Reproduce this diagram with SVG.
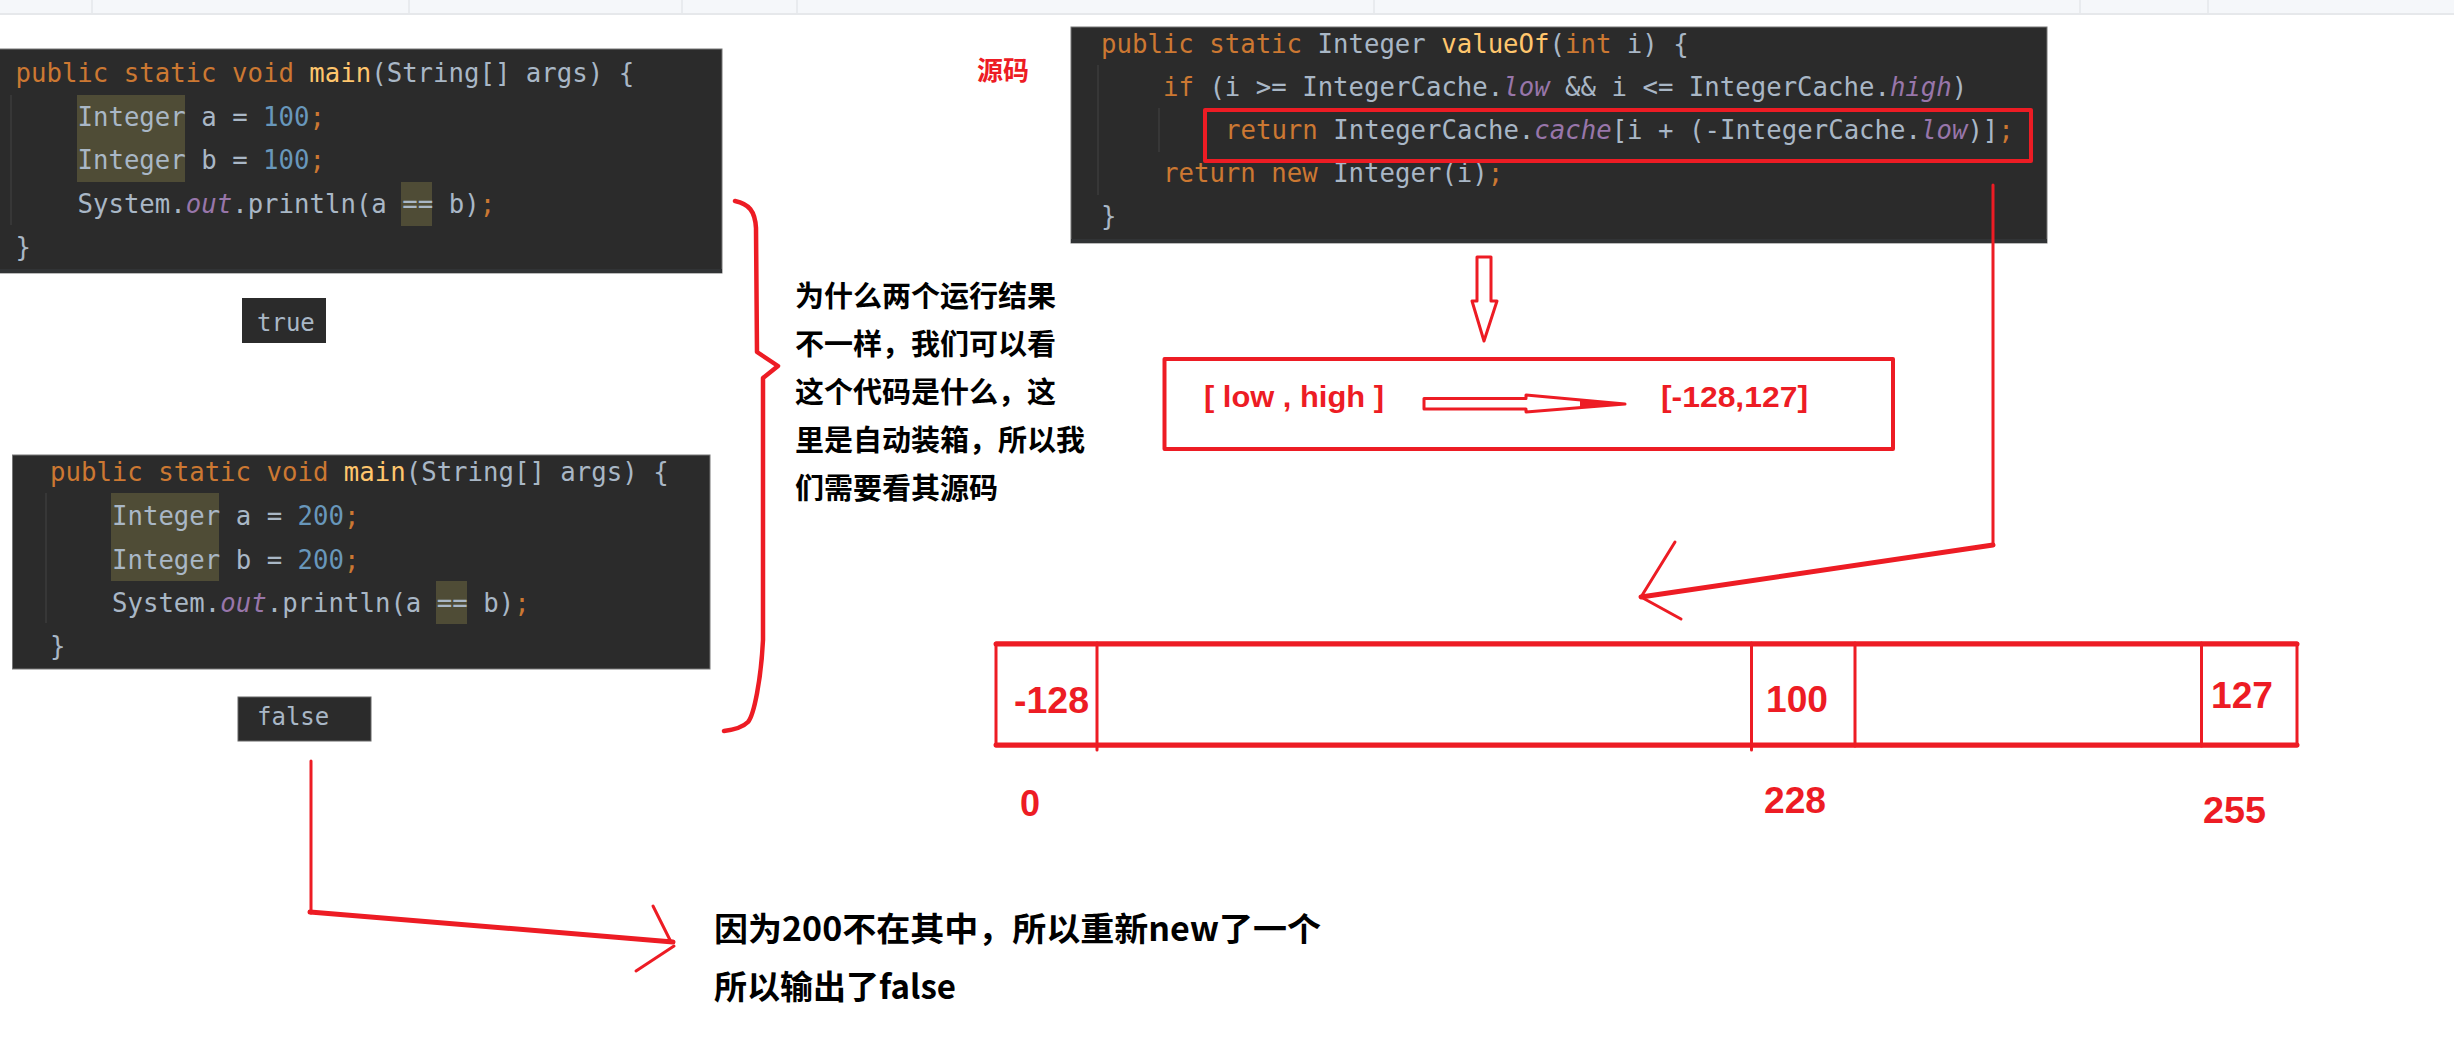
<svg xmlns="http://www.w3.org/2000/svg" width="2454" height="1055" viewBox="0 0 2454 1055">
<style>
.code{font-family:"DejaVu Sans Mono","Liberation Mono",monospace;font-size:25.7px;fill:#a9b7c6}
.kw{fill:#cc7832}
.fn{fill:#ffc66d}
.num{fill:#6897bb}
.pu{fill:#9876aa;font-style:italic}
.blk{fill:#2b2b2b;stroke:#767676;stroke-width:1}
.hl{fill:#4f4c36}
.guide{stroke:#3c3c3c;stroke-width:1.5}
.res{font-family:"DejaVu Sans Mono","Liberation Mono",monospace;font-size:24px;fill:#a9b7c6}
.red{fill:none;stroke:#ed1c24;stroke-linecap:round;stroke-linejoin:round}
.rl{font-family:"Liberation Sans",Arial,sans-serif;font-weight:bold;fill:#ed1c24}
.cn{font-family:"Noto Sans CJK SC","Noto Sans",sans-serif;font-weight:bold;fill:#000}
</style>
<rect width="2454" height="1055" fill="#ffffff"/>
<g id="topbar">
<rect x="0" y="0" width="2454" height="13" fill="#f5f7fa"/>
<rect x="0" y="13" width="2454" height="2" fill="#e6e8eb"/>
<g stroke="#dcdfe3" stroke-width="1">
<line x1="92" y1="0" x2="92" y2="13"/><line x1="409" y1="0" x2="409" y2="13"/><line x1="682" y1="0" x2="682" y2="13"/><line x1="797" y1="0" x2="797" y2="13"/><line x1="1374" y1="0" x2="1374" y2="13"/><line x1="2080" y1="0" x2="2080" y2="13"/><line x1="2208" y1="0" x2="2208" y2="13"/>
</g>
</g>
<g id="code1">
<rect class="blk" x="-1" y="49" width="723" height="224"/>
<rect x="0" y="269" width="722" height="4" fill="#313335"/>
<rect class="hl" x="77" y="95" width="108" height="87"/>
<rect class="hl" x="401" y="182" width="31" height="44"/>
<line class="guide" x1="11" y1="95" x2="11" y2="225"/>
<text class="code" xml:space="preserve" x="15.5" y="82"><tspan class="kw">public static void </tspan><tspan class="fn">main</tspan>(String[] args) {</text>
<text class="code" xml:space="preserve" x="77.5" y="125.5">Integer a = <tspan class="num">100</tspan><tspan class="kw">;</tspan></text>
<text class="code" xml:space="preserve" x="77.5" y="169">Integer b = <tspan class="num">100</tspan><tspan class="kw">;</tspan></text>
<text class="code" xml:space="preserve" x="77.5" y="212.5">System.<tspan class="pu">out</tspan>.println(a == b)<tspan class="kw">;</tspan></text>
<text class="code" x="15.5" y="256">}</text>
</g>
<g id="result-true">
<rect x="242" y="298" width="84" height="45" fill="#2b2b2b"/>
<text class="res" x="257" y="331">true</text>
</g>
<g id="code2">
<rect class="blk" x="12.5" y="455" width="697.5" height="214"/>
<rect class="hl" x="111" y="493" width="108" height="88"/>
<rect class="hl" x="436" y="581" width="31" height="43"/>
<line class="guide" x1="46" y1="493" x2="46" y2="623"/>
<text class="code" xml:space="preserve" x="50" y="481"><tspan class="kw">public static void </tspan><tspan class="fn">main</tspan>(String[] args) {</text>
<text class="code" xml:space="preserve" x="112" y="525">Integer a = <tspan class="num">200</tspan><tspan class="kw">;</tspan></text>
<text class="code" xml:space="preserve" x="112" y="568.5">Integer b = <tspan class="num">200</tspan><tspan class="kw">;</tspan></text>
<text class="code" xml:space="preserve" x="112" y="612">System.<tspan class="pu">out</tspan>.println(a == b)<tspan class="kw">;</tspan></text>
<text class="code" x="50" y="655">}</text>
</g>
<g id="result-false">
<rect x="238" y="697" width="133" height="44" fill="#2b2b2b" stroke="#666" stroke-width="1"/>
<text class="res" x="257" y="725">false</text>
</g>
<g id="brace">
<path class="red" stroke-width="4.5" d="M735 201 C749 204 755 211 756 228 L757 352 L778 366 L763 378 L763 640 C761 680 754 715 748 722 C742 728 732 730 724 731"/>
</g>
<g id="explain">
<text class="cn" font-size="29" x="795" y="307">为什么两个运行结果</text>
<text class="cn" font-size="29" x="795" y="355">不一样，我们可以看</text>
<text class="cn" font-size="29" x="795" y="403">这个代码是什么，这</text>
<text class="cn" font-size="29" x="795" y="451">里是自动装箱，所以我</text>
<text class="cn" font-size="29" x="795" y="499">们需要看其源码</text>
</g>
<g id="label-source">
<text class="cn" font-size="26" x="977" y="80" style="fill:#ed1c24">源码</text>
</g>
<g id="code3">
<rect class="blk" x="1071" y="27" width="976" height="216"/>
<rect x="1071" y="239" width="976" height="4" fill="#313335"/>
<line class="guide" x1="1098" y1="65" x2="1098" y2="195"/>
<line class="guide" x1="1159" y1="108" x2="1159" y2="152"/>
<text class="code" xml:space="preserve" x="1101" y="53"><tspan class="kw">public static </tspan>Integer <tspan class="fn">valueOf</tspan>(<tspan class="kw">int</tspan> i) {</text>
<text class="code" xml:space="preserve" x="1163" y="96"><tspan class="kw">if</tspan> (i &gt;= IntegerCache.<tspan class="pu">low</tspan> &amp;&amp; i &lt;= IntegerCache.<tspan class="pu">high</tspan>)</text>
<text class="code" xml:space="preserve" x="1225" y="139"><tspan class="kw">return </tspan>IntegerCache.<tspan class="pu">cache</tspan>[i + (-IntegerCache.<tspan class="pu">low</tspan>)]<tspan class="kw">;</tspan></text>
<text class="code" xml:space="preserve" x="1163" y="182"><tspan class="kw">return new </tspan>Integer(i)<tspan class="kw">;</tspan></text>
<text class="code" x="1101" y="225">}</text>
<rect class="red" stroke-width="4" x="1205" y="110" width="826" height="51"/>
</g>
<g id="range-box">
<rect class="red" stroke-width="4" x="1164.5" y="359" width="728.5" height="90"/>
<text class="rl" font-size="30" x="1204" y="407" textLength="180" lengthAdjust="spacingAndGlyphs">[ low , high ]</text>
<text class="rl" font-size="30" x="1661" y="407" textLength="147" lengthAdjust="spacingAndGlyphs">[-128,127]</text>
</g>
<g id="cache-array">
<rect class="red" stroke-width="3" x="996" y="643" width="1301" height="103"/>
<line class="red" stroke-width="5" x1="996" y1="644" x2="2297" y2="644" stroke-linecap="butt"/>
<line class="red" stroke-width="5" x1="996" y1="745" x2="2297" y2="745" stroke-linecap="butt"/>
<line class="red" stroke-width="3" x1="1097" y1="643" x2="1097" y2="750"/>
<line class="red" stroke-width="3" x1="1751.5" y1="643" x2="1751.5" y2="750"/>
<line class="red" stroke-width="3" x1="1855" y1="643" x2="1855" y2="746"/>
<line class="red" stroke-width="3" x1="2201.5" y1="643" x2="2201.5" y2="746"/>
<text class="rl" font-size="36" x="1014" y="713" textLength="75" lengthAdjust="spacingAndGlyphs">-128</text>
<text class="rl" font-size="36" x="1766" y="712" textLength="62" lengthAdjust="spacingAndGlyphs">100</text>
<text class="rl" font-size="36" x="2211" y="708" textLength="62" lengthAdjust="spacingAndGlyphs">127</text>
<text class="rl" font-size="36" x="1020" y="816">0</text>
<text class="rl" font-size="36" x="1764" y="813" textLength="62" lengthAdjust="spacingAndGlyphs">228</text>
<text class="rl" font-size="36" x="2203" y="823" textLength="63" lengthAdjust="spacingAndGlyphs">255</text>
</g>
<g id="conclusion">
<text class="cn" font-size="33" x="714" y="941" textLength="607" lengthAdjust="spacingAndGlyphs">因为200不在其中，所以重新new了一个</text>
<text class="cn" font-size="33" x="714" y="999">所以输出了false</text>
</g>
<g id="connectors">
<path class="red" stroke-width="3" d="M1477 257 L1491 257 L1491 301 L1497 301 L1484 341 L1472 301 L1477 301 Z"/>
<path class="red" stroke-width="3" fill="#ffffff" d="M1424 398.5 L1526 398.5 L1526 395 L1625 404 L1526 412 L1526 409 L1424 409 Z"/>
<path fill="#ed1c24" d="M1580 400 L1625 404 L1580 408 Z"/>
<line class="red" stroke-width="3" x1="1993" y1="185" x2="1993" y2="545"/>
<line class="red" stroke-width="5" x1="1993" y1="545" x2="1641" y2="597"/>
<line class="red" stroke-width="3" x1="1641" y1="597" x2="1675" y2="542"/>
<line class="red" stroke-width="3" x1="1641" y1="597" x2="1681" y2="619"/>
<line class="red" stroke-width="3" x1="311" y1="761" x2="311" y2="913"/>
<line class="red" stroke-width="5" x1="310" y1="912" x2="673" y2="942"/>
<line class="red" stroke-width="3" x1="653" y1="906" x2="671" y2="942"/>
<line class="red" stroke-width="3" x1="674" y1="946" x2="636" y2="971"/>
</g>
</svg>
